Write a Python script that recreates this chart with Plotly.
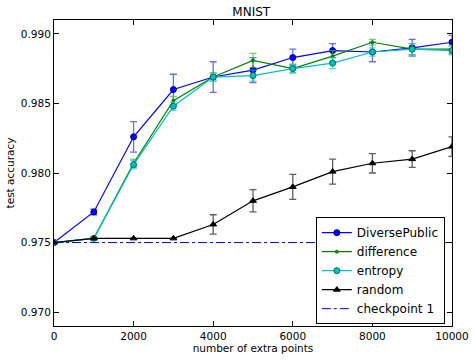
import plotly.graph_objects as go

x = [0, 1000, 2000, 3000, 4000, 5000, 6000, 7000, 8000, 9000, 10000]

diverse = [0.9750, 0.9772, 0.9826, 0.9860, 0.9869, 0.9874, 0.9883, 0.9888, 0.9887, 0.9890, 0.9894]
diverse_err = [0.0000, 0.0002, 0.0011, 0.0011, 0.0011, 0.0009, 0.0006, 0.0005, 0.0007, 0.0006, 0.0005]

difference = [0.9750, 0.9753, 0.9807, 0.9852, 0.9869, 0.9881, 0.9875, 0.9884, 0.9894, 0.9889, 0.9889]
difference_err = [0.0000, 0.0001, 0.0003, 0.0003, 0.0003, 0.0005, 0.0003, 0.0004, 0.0002, 0.0004, 0.0003]

entropy = [0.9750, 0.9753, 0.9806, 0.9848, 0.9869, 0.9870, 0.9875, 0.9879, 0.9887, 0.9889, 0.9888]
entropy_err = [0.0000, 0.0001, 0.0003, 0.0003, 0.0003, 0.0004, 0.0003, 0.0004, 0.0003, 0.0004, 0.0003]

random_acc = [0.9750, 0.9753, 0.9753, 0.9753, 0.9763, 0.9780, 0.9790, 0.9801, 0.9807, 0.9810, 0.9819]
random_err = [0.0000, 0.0000, 0.0000, 0.0000, 0.0007, 0.0008, 0.0009, 0.0009, 0.0007, 0.0006, 0.0007]

checkpoint = [0.975, 0.975]
checkpoint_x = [0, 10000]

x_ticks = [0, 2000, 4000, 6000, 8000, 10000]
y_ticks = [0.970, 0.975, 0.980, 0.985, 0.990]

fig = go.Figure()

def add_series(name, yv, err, color, err_color, symbol, size, line_color=None):
    fig.add_trace(go.Scatter(
        x=x, y=yv, name=name, mode="lines+markers",
        line=dict(color=color, width=1.2),
        marker=dict(symbol=symbol, size=size, color=color,
                    line=dict(color=line_color or color, width=1)),
        error_y=dict(type="data", array=err, visible=True,
                     color=err_color, thickness=1.3, width=3.5),
    ))

add_series("DiversePublic", diverse, diverse_err, "#0000ff", "rgba(60,60,230,0.75)", "circle", 6, "#00008b")
add_series("difference", difference, difference_err, "#008000", "rgba(60,180,60,0.7)", "circle", 3)
add_series("entropy", entropy, entropy_err, "#00bfbf", "rgba(40,190,190,0.7)", "circle", 6, "#007060")
add_series("random", random_acc, random_err, "#000000", "rgba(40,40,40,0.75)", "triangle-up", 6)

fig.add_trace(go.Scatter(
    x=checkpoint_x, y=checkpoint, name="checkpoint 1", mode="lines",
    line=dict(color="#0000ff", width=1, dash="dashdot"),
))

fig.update_layout(
    width=474, height=360,
    margin=dict(l=54, r=22, t=20, b=34),
    paper_bgcolor="white", plot_bgcolor="white",
    font=dict(family="DejaVu Sans", size=10.5, color="black"),
    title=dict(text="MNIST", x=0.53, xanchor="center", y=0.968, yanchor="middle",
               font=dict(size=12)),
    showlegend=True,
    legend=dict(x=0.982, y=0.006, xanchor="right", yanchor="bottom",
                bordercolor="black", borderwidth=1, bgcolor="white",
                font=dict(size=12), tracegroupgap=0, itemwidth=30),
)

fig.update_xaxes(
    range=[0, 10000], tickvals=x_ticks, ticktext=[str(v) for v in x_ticks],
    title=dict(text="number of extra points", standoff=2, font=dict(size=10.5)),
    automargin=False,
    showline=True, linecolor="black", linewidth=1, mirror="ticks",
    ticks="inside", ticklen=5, tickcolor="black", showgrid=False, zeroline=False,
)
fig.update_yaxes(
    range=[0.969, 0.991], tickvals=y_ticks, ticktext=[f"{v:.3f}" for v in y_ticks],
    title=dict(text="test accuracy", standoff=4, font=dict(size=10.5)),
    automargin=False,
    showline=True, linecolor="black", linewidth=1, mirror="ticks",
    ticks="inside", ticklen=5, tickcolor="black", showgrid=False, zeroline=False,
)

fig.write_html("out.html", config={"displayModeBar": False},
               post_script="document.body.style.margin='0';")
